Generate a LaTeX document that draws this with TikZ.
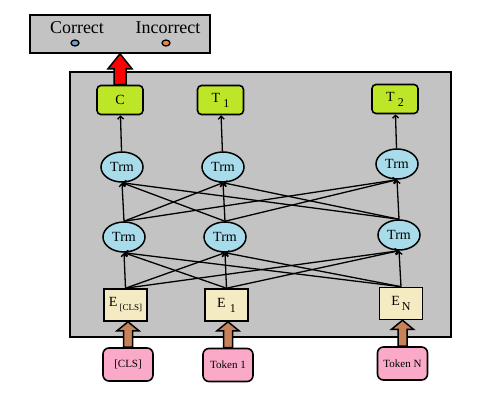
\documentclass[tikz,border=0pt]{standalone}
\usepackage{fontspec}
\setmainfont{Liberation Serif}
\usetikzlibrary{shapes.geometric,calc,arrows.meta}

\definecolor{boxgray}{RGB}{195,195,195}
\definecolor{outgreen}{RGB}{190,230,40}
\definecolor{trmblue}{RGB}{168,220,235}
\definecolor{embyellow}{RGB}{245,235,195}
\definecolor{tokpink}{RGB}{250,170,200}
\definecolor{tokbrown}{RGB}{200,130,90}
\definecolor{dotblue}{RGB}{110,160,210}
\definecolor{dotorange}{RGB}{240,130,70}

% block arrow: from, to, fill, shaft half width, head half width, head height
\newcommand{\fatarrow}[6]{%
  \filldraw[fill=#3, line width=1.5pt] let \p1=(#1), \p2=(#2) in
    (\x1-#4pt,\y1) -- (\x1-#4pt,\y2-#6pt) -- (\x1-#5pt,\y2-#6pt) -- (\x1,\y2)
    -- (\x1+#5pt,\y2-#6pt) -- (\x1+#4pt,\y2-#6pt) -- (\x1+#4pt,\y1) -- cycle;}

\tikzset{
  panel/.style={draw, line width=1.6pt, fill=boxgray, inner sep=0pt},
  outbox/.style={draw, line width=1.6pt, fill=outgreen, rounded corners=4pt,
    minimum width=46pt, minimum height=29pt, inner sep=0pt,
    font=\fontsize{14}{14}\selectfont},
  trm/.style={draw, ellipse, line width=1.5pt, fill=trmblue,
    minimum width=42pt, minimum height=30pt, inner sep=0pt,
    font=\fontsize{14}{14}\selectfont},
  embbox/.style={draw, line width=1.6pt, fill=embyellow,
    minimum width=43pt, minimum height=32pt, inner sep=0pt,
    font=\fontsize{14}{14}\selectfont},
  tokbox/.style={draw, line width=1.6pt, fill=tokpink, rounded corners=6pt,
    minimum width=50pt, minimum height=33pt, inner sep=0pt,
    font=\fontsize{11}{11}\selectfont},
  dot/.style={draw, ellipse, line width=1.3pt, minimum width=8pt,
    minimum height=6pt, inner sep=0pt},
  link/.style={-{Straight Barb[length=3pt,width=6pt]}, line width=1.3pt}
}

\begin{document}
\begin{tikzpicture}[x=1pt, y=-1pt]
  \useasboundingbox (0,0) rectangle (480,404);

  % output classes
  \node[panel, minimum width=180pt, minimum height=38pt] (labels) at (120,34) {};
  \node[font=\fontsize{18}{18}\selectfont] (correct) at (77,28) {Correct};
  \node[font=\fontsize{18}{18}\selectfont] (incorrect) at (168,28) {Incorrect};
  \node[dot, fill=dotblue] (dotc) at (75,43) {};
  \node[dot, fill=dotorange] (doti) at (166,43) {};

  % model
  \node[panel, minimum width=381pt, minimum height=265pt] (bert) at (260.5,204.5) {};

  \node[outbox] (C) at (120,100) {C};
  \node[outbox] (T1) at (220.5,100) {T\hspace{3pt}\raisebox{-5pt}{\fontsize{12}{12}\selectfont 1}};
  \node[outbox] (T2) at (395,99) {T\hspace{3pt}\raisebox{-5pt}{\fontsize{12}{12}\selectfont 2}};

  \node[trm] (up1) at (122,167) {Trm};
  \node[trm] (up2) at (223,167) {Trm};
  \node[trm] (up3) at (397,164) {Trm};

  \node[trm] (lo1) at (124,237) {Trm};
  \node[trm] (lo2) at (225,237) {Trm};
  \node[trm] (lo3) at (399,235) {Trm};

  \node[embbox] (E1) at (125.5,305) {E\hspace{2pt}\raisebox{-4pt}{\fontsize{9}{9}\selectfont[CLS]}};
  \node[embbox] (E2) at (226.5,305) {E\hspace{4pt}\raisebox{-5pt}{\fontsize{12}{12}\selectfont 1}};
  \node[embbox] (E3) at (401,303.5) {E\hspace{2pt}\raisebox{-5pt}{\fontsize{12}{12}\selectfont N}};

  \node[tokbox] (tok1) at (128,364.5) {[CLS]};
  \node[tokbox] (tok2) at (228,365) {Token 1};
  \node[tokbox] (tok3) at (402.5,363.5) {Token N};

  % connections
  \foreach \i in {1,2,3}{
    \foreach \j in {1,2,3}{
      \draw[link] (E\i.north) -- (lo\j.south);
      \draw[link] (lo\i.north) -- (up\j.south);
    }
  }
  \draw[link] (up1) -- (C);
  \draw[link] (up2) -- (T1);
  \draw[link] (up3) -- (T2);

  \fatarrow{C.north}{labels.south}{red}{6}{12}{15}
  \foreach \i in {1,2,3}{
    \fatarrow{tok\i.north}{E\i.south}{tokbrown}{4.5}{11}{9}
  }
\end{tikzpicture}
\end{document}
